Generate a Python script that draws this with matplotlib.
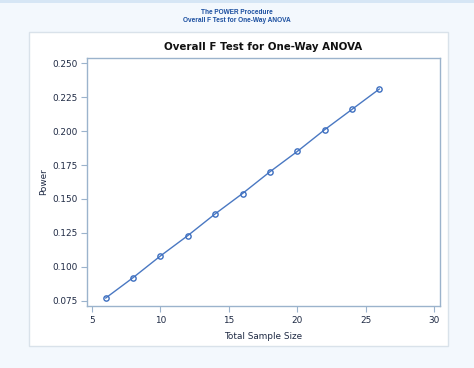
import matplotlib
matplotlib.use("Agg")
import matplotlib.pyplot as plt
from matplotlib.patches import Rectangle

sample_size = [6, 8, 10, 12, 14, 16, 18, 20, 22, 24, 26]
power = [0.077, 0.092, 0.108, 0.123, 0.139, 0.154, 0.170, 0.185, 0.201, 0.216, 0.231]
x_ticks = [5, 10, 15, 20, 25, 30]
y_ticks = [0.075, 0.100, 0.125, 0.150, 0.175, 0.200, 0.225, 0.250]

W, H = 474, 368
fig = plt.figure(figsize=(W / 100, H / 100), dpi=100)
fig.patch.set_facecolor("#f3f8fd")

# top band
fig.patches.append(Rectangle((0, 1 - 3 / H), 1, 3 / H, transform=fig.transFigure,
                             facecolor="#d6e6f5", edgecolor="none", zorder=-2))
# white panel
fig.patches.append(Rectangle((29 / W, 1 - 346 / H), (448 - 29) / W, (346 - 32) / H,
                             transform=fig.transFigure, facecolor="white",
                             edgecolor="#d9e2ea", linewidth=1, zorder=-2))

hdr = dict(ha="center", va="center", fontsize=4.7, fontweight="bold", color="#1b4fa0",
           family="Liberation Sans")
fig.text(237 / W, 1 - 12 / H, "The POWER Procedure", **hdr)
fig.text(237 / W, 1 - 20 / H, "Overall F Test for One-Way ANOVA", **hdr)

ax = fig.add_axes([87 / W, 1 - 306 / H, (440 - 87) / W, (306 - 58) / H])
ax.set_zorder(2)
ax.set_facecolor("white")
ax.plot(sample_size, power, color="#4a78c2", linewidth=1.0, marker="o", markersize=3.8,
        markerfacecolor="none", markeredgecolor="#3d6fc0", markeredgewidth=1.0)

ax.set_xlim(4.63, 30.44)
ax.set_ylim(0.0711, 0.2539)
ax.set_xticks(x_ticks)
ax.set_yticks(y_ticks)
ax.set_yticklabels([f"{v:.3f}" for v in y_ticks])
for s in ax.spines.values():
    s.set_color("#9bb3cc")
    s.set_linewidth(1.0)
ax.tick_params(colors="#9bb3cc", labelcolor="#1f2a44", labelsize=6.4, length=4, width=0.8, pad=3)
ax.set_xlabel("Total Sample Size", fontsize=6.4, color="#1f2a44", labelpad=5)
ax.set_ylabel("Power", fontsize=6.4, color="#1f2a44", labelpad=3)
ax.set_title("Overall F Test for One-Way ANOVA", fontsize=7.4, fontweight="bold",
             color="#111111", pad=6)

fig.savefig("out.png", dpi=100, facecolor=fig.get_facecolor())
